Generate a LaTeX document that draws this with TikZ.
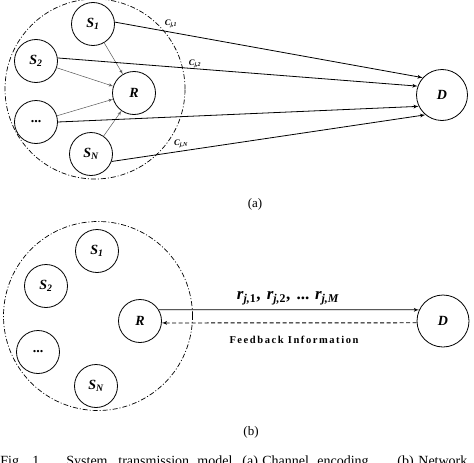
\documentclass[tikz,border=0pt]{standalone}
\usepackage{fontspec}
\setmainfont{Liberation Serif}
\newfontfamily\spacedfont[LetterSpace=15]{Liberation Serif}
\usepackage{tikz}
\usetikzlibrary{%
  arrows,% wg. latex'
  positioning,%
  scopes%
}
\newcommand{\rji}[1]{{\itshape r}\textsubscript{\itshape j,#1}}

\begin{document}
\begin{tikzpicture}[
  x=1pt, y=-1pt,
  >=latex',
  line width=0.8pt,
  stat/.style={circle,draw,minimum size=43pt,inner sep=0pt,
    font=\fontsize{14}{14}\selectfont\bfseries\itshape},
  dest/.style={stat,minimum size=51pt},
  cluster/.style={circle,draw,line width=0.7pt,inner sep=0pt,
    dash pattern=on 5pt off 2pt on 1pt off 2pt},
  link/.style={->,line width=0.8pt},
  feed/.style={->,line width=0.5pt,gray!70!black},
  chan/.style={inner sep=0pt,font=\fontsize{8.5}{8.5}\selectfont\bfseries\itshape},
]
\useasboundingbox (0,0) rectangle (474,463);

% (a) channel encoding
\node[cluster,minimum size=180pt] (grpA) at (95,89) {};
\node[stat] (sA1) at (93,24) {S\textsubscript{1}};
\node[stat] (sA2) at (36,61) {S\textsubscript{2}};
\node[stat] (rA) at (134,93) {R};
\node[stat] (sAd) at (36,122) {\upshape...};
\node[stat] (sAN) at (91,154) {S\textsubscript{N}};
\node[dest] (dA) at (442,95) {D};
\foreach \s in {sA1,sA2,sAd,sAN} {
  \draw[feed] (\s) -- (rA);
}
\draw[link] (sA1.5) -- (dA.138);
\draw[link] (sA2.8) -- (dA.160);
\draw[link] (sAd.east) -- (dA.206);
\draw[link] (sAN.-20) -- (dA.230);
\node[chan] (cA1) at (171,24) {C\textsubscript{j,1}};
\node[chan] (cA2) at (195,64) {C\textsubscript{j,2}};
\node[chan] (cAN) at (181,144) {C\textsubscript{j,N}};
\node[font=\fontsize{13}{13}\selectfont] (labA) at (255,204) {(a)};

% (b) network coding
\node[cluster,minimum size=189pt] (grpB) at (98,316) {};
\node[stat] (sB1) at (97,251) {S\textsubscript{1}};
\node[stat] (sB2) at (46,286) {S\textsubscript{2}};
\node[stat] (rB) at (140,321) {R};
\node[stat] (sBd) at (38,352) {\upshape...};
\node[stat] (sBN) at (96,386) {S\textsubscript{N}};
\node[dest,minimum size=52pt] (dB) at (443,321) {D};
\draw[link] (rB.31) -- (dB.155);
\draw[link,dash pattern=on 4pt off 2.5pt] (dB.184) -- (rB.-5);
\node[font=\fontsize{17}{17}\selectfont\bfseries] (rates) at (288,298)
  {\rji{\upshape 1},\hspace{2pt} \rji{\upshape 2},\hspace{2pt} ... \rji{M}};
\node[font=\spacedfont\fontsize{10.5}{10.5}\selectfont\bfseries] (fb) at (294,340)
  {Feedback Information};
\node[font=\fontsize{13}{13}\selectfont] (labB) at (251,432) {(b)};

% caption, cut off by the page
{ [font=\fontsize{14}{14}\selectfont]
\clip (0,0) rectangle (474,463);
\foreach \x/\w in {0/Fig., 32/1., 66/System, 118/transmission, 197/model.,
  242/{(a)}, 262/Channel, 317/encoding., 397/{(b)}, 418/Network} {
  \node[anchor=base west,inner sep=0pt] (w\x) at (\x,465) {\w};
}
}
\end{tikzpicture}
\end{document}
